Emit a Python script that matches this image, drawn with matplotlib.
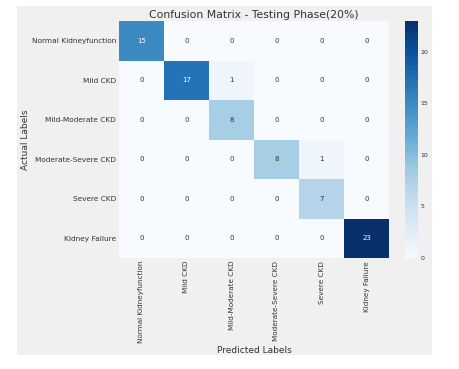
import numpy as np
import matplotlib
matplotlib.use("Agg")
import matplotlib.pyplot as plt
from matplotlib.patches import Rectangle

labels = ["Normal Kidneyfunction", "Mild CKD", "Mild-Moderate CKD",
          "Moderate-Severe CKD", "Severe CKD", "Kidney Failure"]
cm = np.array([
    [15, 0, 0, 0, 0, 0],
    [0, 17, 1, 0, 0, 0],
    [0, 0, 8, 0, 0, 0],
    [0, 0, 0, 8, 1, 0],
    [0, 0, 0, 0, 7, 0],
    [0, 0, 0, 0, 0, 23],
])
cbar_ticks = [0, 5, 10, 15, 20]

W, H = 459, 369
fig = plt.figure(figsize=(W / 100, H / 100), dpi=100, facecolor="white")
# gray panel behind the plot
fig.patches.append(Rectangle((17 / W, 1 - 355 / H), (432 - 17) / W, (355 - 6) / H,
                             transform=fig.transFigure, facecolor="#f0f0f0",
                             edgecolor="none", zorder=-10))

ax = fig.add_axes([119 / W, 1 - 258 / H, (389 - 119) / W, (258 - 21) / H])
cax = fig.add_axes([405 / W, 1 - 258 / H, (418 - 405) / W, (258 - 21) / H])

cmap = plt.get_cmap("Blues")
mesh = ax.pcolormesh(cm, cmap=cmap, vmin=0, vmax=cm.max())
ax.set_xlim(0, 6)
ax.set_ylim(6, 0)
for i in range(6):
    for j in range(6):
        v = cm[i, j]
        col = "white" if v > 11 else "#333333"
        ax.text(j + 0.5, i + 0.5, str(v), ha="center", va="center",
                fontsize=5, color=col)

ax.set_xticks(np.arange(6) + 0.5)
ax.set_xticklabels(labels, rotation=90, fontsize=5.2, color="#333333")
ax.set_yticks(np.arange(6) + 0.5)
ax.set_yticklabels(labels, fontsize=5.3, color="#333333")
ax.tick_params(length=0, pad=2)
for s in ax.spines.values():
    s.set_visible(False)
ax.set_title("Confusion Matrix - Testing Phase(20%)", fontsize=7.8,
             color="#333333", pad=2)
ax.set_xlabel("Predicted Labels", fontsize=6.5, color="#333333", labelpad=2)
ax.set_ylabel("Actual Labels", fontsize=6.5, color="#333333")
ax.yaxis.set_label_coords(-0.33, 0.5)

cb = fig.colorbar(mesh, cax=cax, ticks=cbar_ticks)
cb.outline.set_visible(False)
cax.tick_params(labelsize=4.5, length=0, pad=2, colors="#333333")

fig.savefig("out.png", dpi=100, facecolor="white")
